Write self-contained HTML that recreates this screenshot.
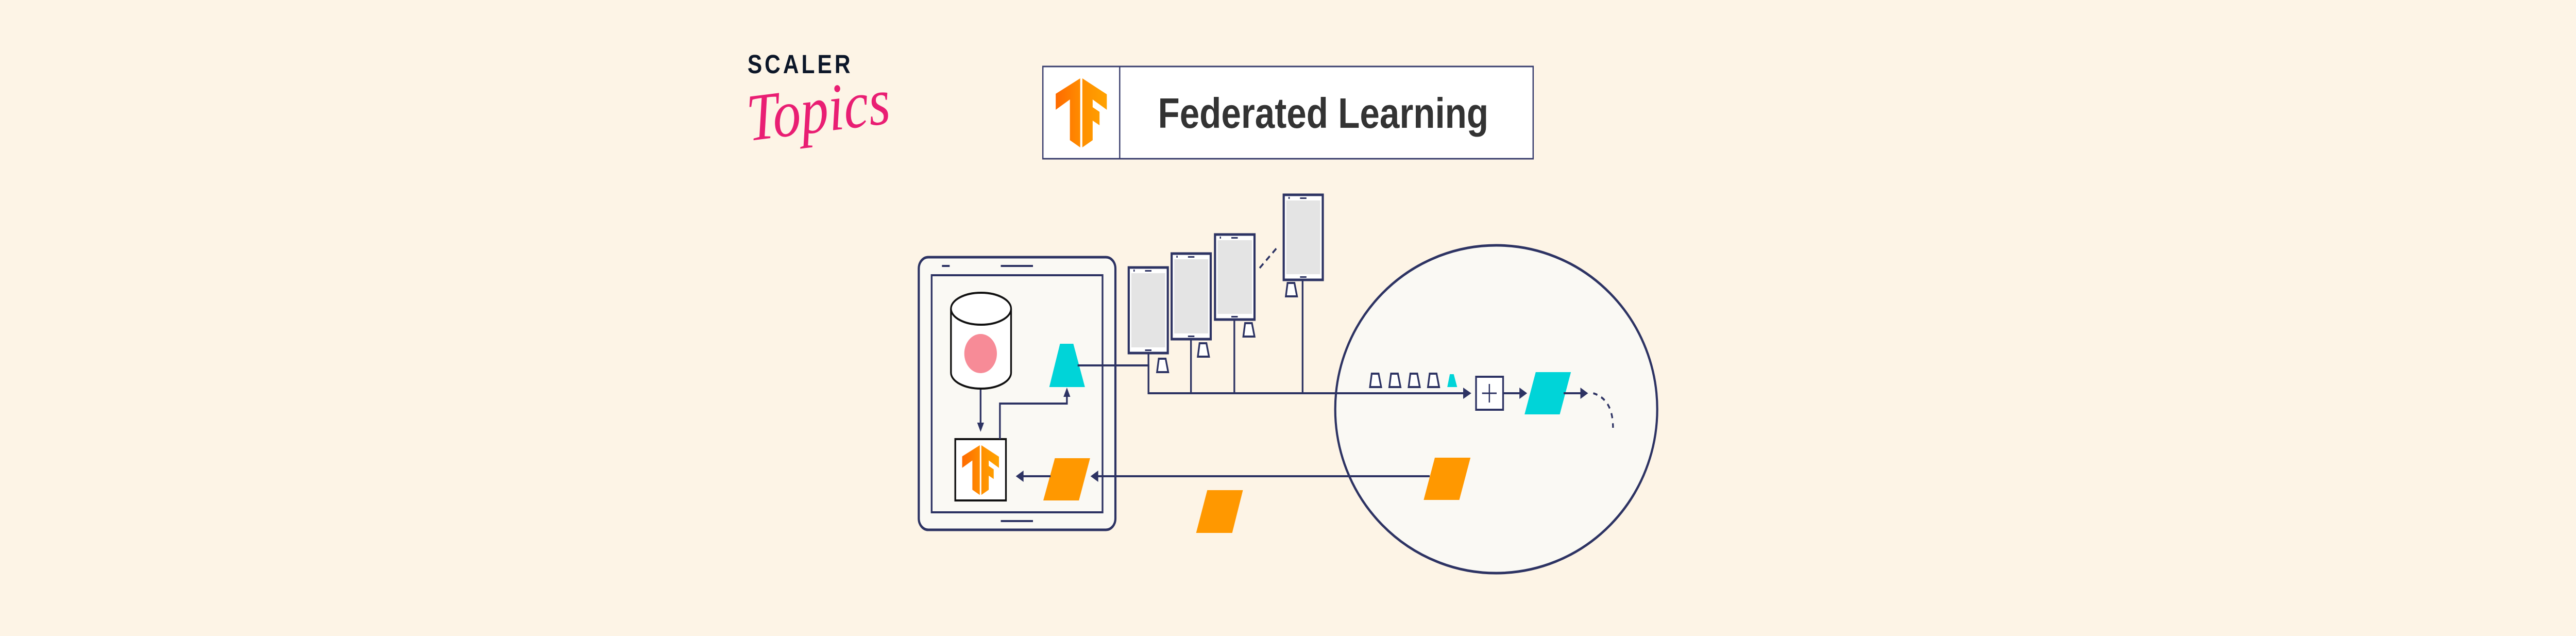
<!DOCTYPE html>
<html><head><meta charset="utf-8"><style>
html,body{margin:0;padding:0;background:#fdf4e6;width:100%;height:100%;overflow:hidden;}
svg{display:block;width:100vw;height:100vh}
</style></head><body>
<svg viewBox="0 0 6000 1234" preserveAspectRatio="none" xmlns="http://www.w3.org/2000/svg">
<defs>
<linearGradient id="g1" x1="0" x2="1" y1="0" y2="0"><stop offset="0" stop-color="#ff6a00"/><stop offset="1" stop-color="#ff8c00"/></linearGradient>
<linearGradient id="g2" x1="0" x2="1" y1="0" y2="0"><stop offset="0" stop-color="#ff8f00"/><stop offset="1" stop-color="#ffa200"/></linearGradient>
<g id="tf">
<polygon fill="url(#g1)" points="96,22 96,156 72,142 72,63 39,83 39,52"/>
<polygon fill="url(#g2)" points="101,22 158,53 158,83 125,63 125,78 141,87 141,113 125,104 125,142 101,156"/>
</g>
<g id="trap"><polygon points="4,0 20,0 26,26 0,26" fill="#fff" stroke="#2d3363" stroke-width="4"/></g>
</defs>
<rect width="6000" height="1234" fill="#fdf4e6"/>

<text x="1741" y="142" font-family="Liberation Sans, sans-serif" font-weight="bold" font-size="51" letter-spacing="6" fill="#0c1628">SCALER</text>
<text x="1740" y="262" font-family="Liberation Serif, serif" font-style="italic" font-size="130" fill="#e91e73" transform="rotate(-6 1850 230)">Topics</text>

<rect x="2429" y="129" width="1142" height="179" fill="#fff" stroke="#3a3f6e" stroke-width="3"/>
<line x1="2608" y1="129" x2="2608" y2="308" stroke="#3a3f6e" stroke-width="3"/>
<use href="#tf" transform="translate(2420,130)"/>
<text x="2697" y="248" font-family="Liberation Sans, sans-serif" font-weight="bold" font-size="83" fill="#333">Federated Learning</text>

<rect x="2140" y="499" width="458" height="529" rx="22" fill="#faf9f4" stroke="#2d3363" stroke-width="5"/>
<rect x="2170" y="534" width="398" height="460" fill="#faf9f4" stroke="#2d3363" stroke-width="4"/>
<line x1="2194" y1="516" x2="2212" y2="516" stroke="#2d3363" stroke-width="4"/>
<line x1="2331" y1="516" x2="2406" y2="516" stroke="#2d3363" stroke-width="4"/>
<line x1="2331" y1="1011" x2="2406" y2="1011" stroke="#2d3363" stroke-width="4"/>

<path d="M2215,599 L2215,723 A70,31 0 0 0 2355,723 L2355,599" fill="#fff" stroke="#111" stroke-width="4"/>
<ellipse cx="2285" cy="599" rx="70" ry="31" fill="#fff" stroke="#111" stroke-width="4"/>
<ellipse cx="2284" cy="686" rx="38" ry="38" fill="#f78b97"/>
<line x1="2284" y1="756" x2="2284" y2="822" stroke="#2d3363" stroke-width="4"/>
<polygon points="2276,820 2292,820 2284,838" fill="#2d3363"/>

<rect x="2225" y="852" width="118" height="119" fill="#fff" stroke="#111" stroke-width="4"/>
<use href="#tf" transform="translate(2213,848) scale(0.72)"/>

<polyline points="2329,852 2329,783 2485,783 2485,768" fill="none" stroke="#2d3363" stroke-width="4"/>
<polygon points="2477,770 2493,770 2485,752" fill="#2d3363"/>
<polygon points="2469,667 2500,667 2527,751 2444,751" fill="#00d4d8"/>

<polyline points="2510,709 2675,709 2675,763" fill="none" stroke="#2d3363" stroke-width="4"/>

<g stroke="#2d3363">
<rect x="2629" y="519" width="91" height="166" fill="#fff" stroke-width="5"/>
<rect x="2729" y="492" width="91" height="166" fill="#fff" stroke-width="5"/>
<rect x="2830" y="455" width="92" height="165" fill="#fff" stroke-width="5"/>
<rect x="2990" y="378" width="91" height="165" fill="#fff" stroke-width="5"/>
</g>
<g fill="#e4e4e4">
<rect x="2635" y="530" width="79" height="144"/>
<rect x="2735" y="503" width="79" height="144"/>
<rect x="2836" y="466" width="80" height="143"/>
<rect x="2996" y="389" width="79" height="143"/>
</g>
<g fill="#2d3363">
<rect x="2640" y="523" width="3" height="4"/><rect x="2667" y="524" width="15" height="3"/><rect x="2667" y="678" width="15" height="3"/>
<rect x="2740" y="496" width="3" height="4"/><rect x="2767" y="497" width="15" height="3"/><rect x="2767" y="651" width="15" height="3"/>
<rect x="2841" y="459" width="3" height="4"/><rect x="2868" y="460" width="15" height="3"/><rect x="2868" y="613" width="15" height="3"/>
<rect x="3001" y="382" width="3" height="4"/><rect x="3028" y="383" width="15" height="3"/><rect x="3028" y="536" width="15" height="3"/>
</g>
<line x1="2934" y1="520" x2="2977" y2="478" stroke="#2d3363" stroke-width="4" stroke-dasharray="12,9"/>

<g stroke="#2d3363" stroke-width="4" fill="none">
<line x1="2675" y1="685" x2="2675" y2="763"/>
<line x1="2774" y1="658" x2="2774" y2="763"/>
<line x1="2875" y1="620" x2="2875" y2="763"/>
<line x1="3034" y1="543" x2="3034" y2="763"/>
</g>
<use href="#trap" transform="translate(2695,696)"/>
<use href="#trap" transform="translate(2790,666)"/>
<use href="#trap" transform="translate(2896,627)"/>
<use href="#trap" transform="translate(2995,549)"/>

<ellipse cx="3485" cy="794" rx="375" ry="318" fill="#faf9f4" stroke="#2d3363" stroke-width="5"/>

<line x1="2673" y1="763" x2="3412" y2="763" stroke="#2d3363" stroke-width="4"/>
<polygon points="3408,752 3427,763 3408,774" fill="#2d3363"/>
<use href="#trap" transform="translate(3191,725)"/>
<use href="#trap" transform="translate(3236,725)"/>
<use href="#trap" transform="translate(3281,725)"/>
<use href="#trap" transform="translate(3326,725)"/>
<polygon points="3377,726 3386,726 3394,751 3371,751" fill="#00d4d8"/>

<rect x="3438" y="731" width="63" height="64" fill="#fff" stroke="#2d3363" stroke-width="4"/>
<line x1="3469" y1="745" x2="3469" y2="781" stroke="#2d3363" stroke-width="3"/>
<line x1="3452" y1="763" x2="3486" y2="763" stroke="#2d3363" stroke-width="3"/>
<line x1="3501" y1="763" x2="3543" y2="763" stroke="#2d3363" stroke-width="4"/>
<polygon points="3539,752 3557,763 3539,774" fill="#2d3363"/>
<polygon points="3577,722 3659,722 3633,804 3551,804" fill="#00d4d8"/>
<line x1="3642" y1="763" x2="3684" y2="763" stroke="#2d3363" stroke-width="4"/>
<polygon points="3681,752 3699,763 3681,774" fill="#2d3363"/>
<path d="M3711,763 Q3757,775 3757,830" fill="none" stroke="#2d3363" stroke-width="4" stroke-dasharray="10,10"/>

<polygon points="3342,888 3425,888 3399,970 3316,970" fill="#ff9800"/>
<line x1="3330" y1="924" x2="2555" y2="924" stroke="#2d3363" stroke-width="4"/>
<polygon points="2558,913 2540,924 2558,935" fill="#2d3363"/>
<polygon points="2457,889 2539,889 2513,971 2430,971" fill="#ff9800"/>
<line x1="2447" y1="924" x2="2380" y2="924" stroke="#2d3363" stroke-width="4"/>
<polygon points="2384,913 2366,924 2384,935" fill="#2d3363"/>
<polygon points="2812,951 2895,951 2870,1034 2786,1034" fill="#ff9800"/>
</svg>
</body></html>
